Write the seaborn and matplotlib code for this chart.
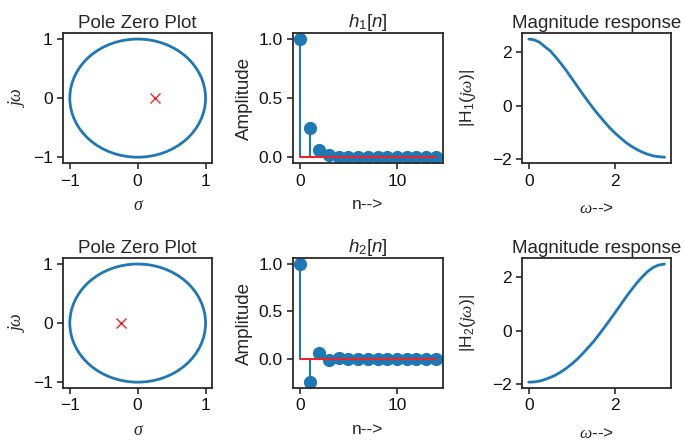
import numpy as np
import matplotlib
matplotlib.use("Agg")
import matplotlib.pyplot as plt
import seaborn as sns
import pandas as pd

# pole locations
poles = [0.25, -0.25]

# impulse responses h1[n], h2[n] for n = 0..14
n = list(range(15))
h1 = [1.0, 0.25, 0.0625, 0.016, 0.004, 0.001, 0, 0, 0, 0, 0, 0, 0, 0, 0]
h2 = [1.0, -0.25, 0.0625, -0.016, 0.004, -0.001, 0, 0, 0, 0, 0, 0, 0, 0, 0]

# magnitude responses (dB) read from the right column
omega = [0, 0.125, 0.25, 0.375, 0.5, 0.625, 0.75, 0.875, 1.0, 1.125, 1.25, 1.375,
         1.5, 1.625, 1.75, 1.875, 2.0, 2.125, 2.25, 2.375, 2.5, 2.625, 2.75,
         2.875, 3.0, 3.14]
mag1 = [2.50, 2.47, 2.38, 2.21, 2.05, 1.82, 1.57, 1.30, 1.01, 0.72, 0.43, 0.15,
        -0.12, -0.37, -0.61, -0.84, -1.04, -1.22, -1.39, -1.53, -1.65, -1.75,
        -1.83, -1.89, -1.92, -1.94]
mag2 = [-1.94, -1.93, -1.90, -1.84, -1.76, -1.67, -1.55, -1.41, -1.25, -1.07,
        -0.86, -0.64, -0.41, -0.15, 0.12, 0.40, 0.68, 0.97, 1.26, 1.53, 1.79,
        2.02, 2.22, 2.37, 2.46, 2.50]

BLUE = "#1f77b4"
RED = "#e8262a"

sns.set_theme(style="ticks")
plt.rcParams["font.family"] = ["Liberation Sans", "DejaVu Sans"]
plt.rcParams["mathtext.fontset"] = "custom"
plt.rcParams["mathtext.rm"] = "Liberation Sans"
plt.rcParams["mathtext.it"] = "Liberation Serif:italic"
plt.rcParams["mathtext.sf"] = "Liberation Sans:italic"
plt.rcParams["axes.edgecolor"] = "#2a2a2a"
plt.rcParams["axes.linewidth"] = 1.3
plt.rcParams["xtick.color"] = "#2a2a2a"
plt.rcParams["ytick.color"] = "#2a2a2a"
plt.rcParams["xtick.labelcolor"] = "#111111"
plt.rcParams["ytick.labelcolor"] = "#111111"

fig = plt.figure(figsize=(6.85, 4.42), dpi=100)
lefts = [0.092, 0.428, 0.762]
bottoms = [0.631, 0.122]
W, H = 0.218, 0.294

serif_it = dict(family="Liberation Serif", style="italic", fontsize=13)
TFS = 13.5
LFS = 12.5

for r, (p, h, mag) in enumerate(zip(poles, [h1, h2], [mag1, mag2])):
    k = r + 1
    # pole-zero plot
    ax = fig.add_axes([lefts[0], bottoms[r], W, H])
    ax.add_patch(plt.Circle((0, 0), 1, fill=False, color=BLUE, lw=2))
    ax.autoscale_view()
    ax.margins(0.05)
    ax.plot([p], [0], "x", color=RED, ms=7)
    ax.set_xticks([-1, 0, 1])
    ax.set_yticks([-1, 0, 1])
    ax.set_title("Pole Zero Plot", fontsize=TFS, pad=4)
    ax.set_xlabel("σ", labelpad=6, **serif_it)
    ax.set_ylabel("jω", **serif_it)

    # impulse response
    ax = fig.add_axes([lefts[1], bottoms[r], W, H])
    ml, sl, bl = ax.stem(n, h, basefmt="-")
    plt.setp(ml, markersize=8.5, color=BLUE, zorder=2)
    plt.setp(sl, linewidth=1.5, color=BLUE)
    plt.setp(bl, linewidth=1.5, color=RED, zorder=3)
    ax.set_xticks([0, 10])
    ax.set_yticks([0.0, 0.5, 1.0])
    ax.set_title(r"$\mathsf{h}_{%d}[\mathsf{n}]$" % k, fontsize=TFS, pad=4)
    ax.set_xlabel("n-->", fontsize=LFS, labelpad=6)
    ax.set_ylabel("Amplitude", fontsize=TFS)

    # magnitude response
    ax = fig.add_axes([lefts[2], bottoms[r], W, H])
    df = pd.DataFrame({"w": omega, "m": mag})
    sns.lineplot(data=df, x="w", y="m", ax=ax, color=BLUE, lw=2)
    ax.set_xticks([0, 2])
    ax.set_yticks([-2, 0, 2])
    ax.set_title("Magnitude response", fontsize=TFS, pad=4)
    ax.set_xlabel(r"$\omega$-->", fontsize=LFS, labelpad=9)
    ax.set_ylabel(r"|H$_{%d}$($j\omega$)|" % k, fontsize=LFS, labelpad=10)

for ax in fig.axes:
    ax.tick_params(labelsize=12.5, length=4, width=1.2)

fig.savefig("out.png", dpi=100)
